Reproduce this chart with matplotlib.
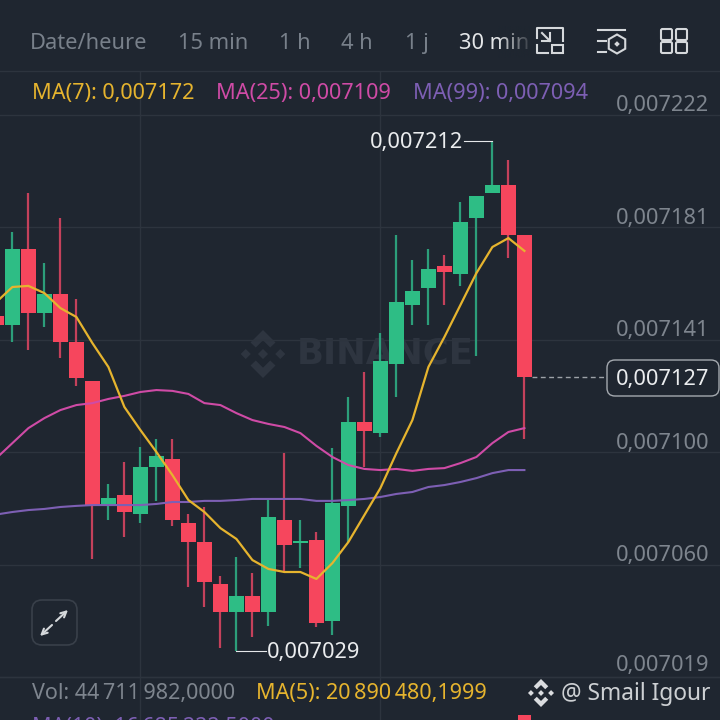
import numpy as np
import matplotlib
matplotlib.use("Agg")

import matplotlib.pyplot as plt
from matplotlib.patches import FancyBboxPatch, Polygon, RegularPolygon, Rectangle
from matplotlib.colors import to_rgb

plt.rcParams['font.family'] = ['Noto Sans', 'DejaVu Sans']

BG = '#1F2630'
GRID = '#2D343E'
GREY = '#7E858E'
RED = '#F6465D'
GREEN = '#2EBD85'
RED_WICK = '#C4415B'
GREEN_WICK = '#2C9E7A'
YELLOW = '#E6B42E'
PINK = '#CF4BA6'
PURPLE = '#7D5FB4'
ICON = '#D5D8DB'

# candles, price in millionths, first one is cut by the left edge
opens = [7149.0, 7145.7, 7173.1, 7150.0, 7156.9, 7139.6, 7125.6, 7080.9, 7084.5, 7077.7, 7094.6,
         7097.5, 7074.4, 7067.6, 7052.5, 7042.4, 7048.2, 7042.4, 7075.5, 7067.2, 7068.3, 7039.2,
         7080.6, 7110.8, 7106.8, 7131.7, 7152.9, 7159.0, 7167.0, 7164.1, 7184.2, 7193.2, 7196.1,
         7178.1]
closes = [7145.7, 7173.1, 7150.0, 7156.9, 7139.6, 7126.6, 7080.9, 7083.4, 7078.4, 7094.6, 7098.6,
          7075.5, 7067.6, 7053.2, 7042.4, 7048.2, 7042.4, 7076.6, 7066.5, 7068.0, 7038.4, 7081.6,
          7110.8, 7107.6, 7132.8, 7154.0, 7158.0, 7165.9, 7164.8, 7182.8, 7192.2, 7196.1, 7178.1,
          7127.0]
highs = [7149.0, 7179.2, 7193.2, 7168.0, 7184.2, 7155.1, 7125.6, 7088.5, 7096.4, 7101.8, 7104.7,
         7104.7, 7077.7, 7080.2, 7055.4, 7062.2, 7056.4, 7082.7, 7099.6, 7075.5, 7071.2, 7101.4,
         7119.8, 7128.8, 7142.8, 7178.1, 7169.1, 7173.1, 7170.9, 7190.0, 7192.2, 7212.0, 7205.1,
         7178.1]
lows = [7145.7, 7139.6, 7136.7, 7145.0, 7133.8, 7123.8, 7061.5, 7075.5, 7069.4, 7074.4, 7082.4,
        7073.4, 7051.4, 7044.2, 7029.4, 7028.5, 7033.4, 7037.4, 7056.8, 7058.2, 7037.0, 7034.1,
        7067.6, 7094.6, 7105.4, 7119.8, 7145.7, 7145.7, 7152.9, 7159.8, 7134.6, 7193.2, 7169.8,
        7104.7]
ma7 = [7154.0, 7159.4, 7159.8, 7157.2, 7151.8, 7148.6, 7139.2, 7130.6, 7116.2, 7107.9, 7100.0,
       7091.7, 7082.7, 7078.4, 7072.6, 7068.7, 7061.1, 7057.9, 7056.8, 7056.8, 7054.3, 7060.0,
       7067.6, 7077.3, 7087.0, 7099.6, 7111.5, 7130.6, 7141.4, 7152.9, 7164.4, 7173.8, 7177.0,
       7172.4]
ma25 = [7097.8, 7103.2, 7108.6, 7112.2, 7115.1, 7116.9, 7117.6, 7119.1, 7120.2, 7121.6, 7122.3,
        7122.0, 7120.9, 7117.6, 7116.9, 7114.0, 7111.5, 7110.1, 7109.0, 7106.8, 7102.2, 7098.2,
        7095.3, 7093.9, 7093.5, 7093.9, 7093.2, 7093.9, 7094.2, 7096.0, 7098.2, 7103.2, 7107.2,
        7108.6]
ma99 = [7077.5, 7078.4, 7079.1, 7079.5, 7080.2, 7080.6, 7080.9, 7080.9, 7080.9, 7080.9, 7081.3,
        7082.0, 7082.0, 7082.4, 7082.4, 7082.7, 7083.1, 7083.1, 7083.1, 7083.1, 7082.4, 7082.4,
        7082.7, 7083.1, 7083.8, 7084.9, 7085.6, 7087.4, 7088.1, 7089.2, 7090.6, 7092.4, 7093.5,
        7093.5]
volume = [44711982.0]

price_ticks = [7221.5, 7181.0, 7140.5, 7100.0, 7059.5, 7019.0]
price_labels = ['0,007222', '0,007181', '0,007141', '0,007100', '0,007060', '0,007019']
time_grid = [8, 23]
tabs = ['Date/heure', '15 min', '1 h', '4 h', '1 j']
tab_x = [30, 178, 279, 341, 405]


def logo(a, cx, cy, r, color, z=1):
    # small Binance mark out of five shapes
    for dx in (-0.72, 0, 0.72):
        a.add_patch(RegularPolygon((cx + dx * r, cy), 4, radius=0.21 * r, color=color, lw=0, zorder=z))
    for s in (-1, 1):
        pts = [(0, -1), (0.52, -0.48), (0.3, -0.27), (0, -0.57), (-0.3, -0.27), (-0.52, -0.48)]
        a.add_patch(Polygon([(cx + x * r, cy + s * y * r) for x, y in pts], color=color, lw=0, zorder=z))


fig = plt.figure(figsize=(7.2, 7.2), dpi=100, facecolor=BG)

back = fig.add_axes([0, 0, 1, 1], zorder=0)
back.set_xlim(0, 720)
back.set_ylim(720, 0)
back.axis('off')

ax = fig.add_axes([0, 0, 1, 1], zorder=1)
ax.patch.set_alpha(0)
ax.set_xlim(-0.775, 44.225)
ax.set_ylim(7003.52, 7262.72)
ax.axis('off')

chrome = fig.add_axes([0, 0, 1, 1], zorder=2)
chrome.patch.set_alpha(0)
chrome.set_xlim(0, 720)
chrome.set_ylim(720, 0)
chrome.axis('off')

vol_ax = fig.add_axes([0, 0, 1, 5 / 720], zorder=1)
vol_ax.patch.set_alpha(0)
vol_ax.set_xlim(-0.775, 44.225)
vol_ax.set_ylim(0, volume[0])
vol_ax.axis('off')

# watermark
logo(back, 263, 354, 24, '#2E3540')
back.text(297, 354, 'BINANCE', color='#2E3540', fontsize=25.5, family='DejaVu Sans', fontweight='bold',
          va='center', ha='left')

# grid
for t in price_ticks:
    ax.axhline(t, color=GRID, lw=1.0, zorder=1)
for t in time_grid:
    ax.axvline(t, ymin=0, ymax=0.9, color=GRID, lw=1.0, zorder=1)
chrome.plot([0, 720], [71, 71], color=GRID, lw=1.0)

# candles
idx = np.arange(-1, len(opens) - 1)
opens = np.array(opens)
closes = np.array(closes)
up = closes >= opens
ax.vlines(idx, lows, highs, colors=np.where(up, GREEN_WICK, RED_WICK), lw=1.6, zorder=2)
ax.bar(idx, np.abs(closes - opens), bottom=np.minimum(opens, closes), width=0.89,
       color=np.where(up, GREEN, RED), lw=0, zorder=3)
vol_ax.bar(idx[-1:], volume, width=0.8, color=RED)

ax.plot(idx, ma99, color=PURPLE, lw=1.5, zorder=4)
ax.plot(idx, ma25, color=PINK, lw=1.5, zorder=5)
ax.plot(idx, ma7, color=YELLOW, lw=1.6, zorder=6)

# price axis
offsets = [6.2, 6.2, 6.2, 6.2, 6.2, 8.5]
for t, lab, off in zip(price_ticks, price_labels, offsets):
    ax.annotate(lab, xy=(43.55, t), xytext=(0, off), textcoords='offset points', ha='right', va='center',
                color=GREY, fontsize=15.7)

# high, low and last price
x_hi = idx[int(np.argmax(highs))]
x_lo = idx[int(np.argmin(lows))]
ax.plot([x_hi, x_hi - 1.75], [max(highs)] * 2, color='#E6E8EA', lw=0.8, zorder=4)
ax.annotate('0,007212', xy=(x_hi - 1.75, max(highs)), xytext=(-1, -1.5), textcoords='offset points',
            ha='right', va='center', color='#EAECEE', fontsize=15.7, zorder=8)
ax.plot([x_lo, x_lo + 1.875], [min(lows)] * 2, color='#E6E8EA', lw=0.8, zorder=4)
ax.annotate('0,007029', xy=(x_lo + 1.875, min(lows)), xytext=(0, -1.5), textcoords='offset points',
            ha='left', va='center', color='#EAECEE', fontsize=15.7, zorder=8)
ax.hlines(closes[-1], idx[-1] + 0.45, 37.1, colors='#9DA2A8', lw=1.0, linestyles=(0, (3.5, 2.5)), zorder=2)
chrome.add_patch(FancyBboxPatch((611, 364), 104, 28, boxstyle='round,pad=4,rounding_size=8',
                                fc=BG, ec='#A4A9AF', lw=1.0))
chrome.text(663, 379.5, '0,007127', color='#EAECEE', fontsize=15.7, ha='center', va='center')

# header
for lab, x in zip(tabs, tab_x):
    chrome.text(x, 43.5, lab, color='#78808A', fontsize=15.7, ha='left', va='center')
chrome.text(459, 43.5, '30 min', color='#E4E6E8', fontsize=15.7, ha='left', va='center', fontweight='medium')
fade = np.ones((1, 40, 4))
fade[..., :3] = to_rgb(BG)
fade[..., 3] = np.linspace(0, 1, 40)
chrome.imshow(fade, extent=(497, 534, 58, 26), aspect='auto', zorder=3)
chrome.set_xlim(0, 720)
chrome.set_ylim(720, 0)

chrome.text(32, 93.5, 'MA(7): 0,007172', color=YELLOW, fontsize=15.6, va='center')
chrome.text(216, 93.5, 'MA(25): 0,007109', color=PINK, fontsize=15.6, va='center')
chrome.text(413, 93.5, 'MA(99): 0,007094', color=PURPLE, fontsize=15.6, va='center')

# header icons
lw = 1.5
chrome.plot([537, 537, 563, 563], [38, 28, 28, 41], color=ICON, lw=lw, zorder=4)
chrome.plot([537, 537, 548], [45, 53, 53], color=ICON, lw=lw, zorder=4)
chrome.add_patch(Rectangle((552, 45), 11, 8, fc='none', ec=ICON, lw=lw, zorder=4))
chrome.plot([542, 550], [33, 41], color=ICON, lw=lw, zorder=4)
chrome.plot([542, 550, 550], [41, 41, 33], color=ICON, lw=lw, zorder=4)
chrome.plot([598, 625], [30, 30], color=ICON, lw=lw)
chrome.plot([598, 606], [41, 41], color=ICON, lw=lw)
chrome.plot([598, 606], [52, 52], color=ICON, lw=lw)
chrome.add_patch(RegularPolygon((617, 44), 6, radius=9.5, fc='none', ec=ICON, lw=lw))
chrome.add_patch(RegularPolygon((617, 44), 4, radius=2.8, color=ICON, lw=0))
for x in (661, 676):
    for y in (29, 42):
        chrome.add_patch(FancyBboxPatch((x + 1, y + 1), 9, 9, boxstyle='round,pad=1,rounding_size=1.5',
                                        fc='none', ec=ICON, lw=lw))

# expand button
chrome.add_patch(FancyBboxPatch((38, 606), 33, 33, boxstyle='round,pad=6,rounding_size=10',
                                fc='none', ec='#39404A', lw=1.2))
chrome.annotate('', xy=(40, 636), xytext=(52, 625), arrowprops=dict(arrowstyle='->', color=ICON, lw=1.5,
                                                                    mutation_scale=10, shrinkA=0, shrinkB=0))
chrome.annotate('', xy=(68, 610), xytext=(56, 621), arrowprops=dict(arrowstyle='->', color=ICON, lw=1.5,
                                                                    mutation_scale=10, shrinkA=0, shrinkB=0))

# footer
chrome.plot([0, 720], [677, 677], color=GRID, lw=1.0)
chrome.text(32, 693.5, 'Vol: 44\u2009711\u2009982,0000', color=GREY, fontsize=15.5, va='center')
chrome.text(256, 693.5, 'MA(5): 20\u2009890\u2009480,1999', color=YELLOW, fontsize=15.5, va='center')
chrome.text(32, 727, 'MA(10): 16\u2009685\u2009222,5000', color=PURPLE, fontsize=15.5, va='center', clip_on=True)
logo(chrome, 541, 693, 14, '#DADCDF')
chrome.text(561, 694, '@ Smail Igour', color='#CDD0D3', fontsize=16.4, va='center')

fig.savefig('out.png', dpi=100, facecolor=BG)
